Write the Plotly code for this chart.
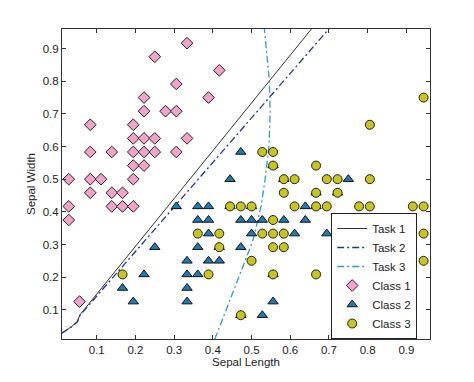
import plotly.graph_objects as go

# Grid indices: x = i/36, y = j/24 (normalised iris sepal measures)
class1_i = [1, 3, 3, 3, 3, 4, 5, 5, 6, 7, 7, 7, 7, 7, 8, 8, 8, 8, 8, 9, 9, 9, 10, 11, 11, 11, 12, 12, 14, 15, 1, 1, 5, 6, 7, 2]
class1_j = [12, 16, 14, 12, 11, 12, 14, 11, 11, 16, 15, 14, 13, 12, 18, 17, 15, 14, 13, 21, 15, 14, 17, 19, 17, 14, 22, 15, 18, 20, 10, 9, 10, 10, 10, 3]

class2_i = [11, 13, 14, 13, 14, 14, 13, 9, 12, 14, 15, 12, 13, 8, 6, 12, 7, 12,
            17, 16, 21, 20, 16, 18, 23, 17, 18, 19, 21, 23, 18, 22, 15, 17, 20, 20, 17, 19, 27, 24, 26, 24, 25]
class2_j = [10, 10, 10, 9, 9, 8, 7, 7, 6, 6, 6, 5, 5, 5, 4, 4, 3, 3,
            14, 12, 12, 13, 10, 10, 10, 9, 9, 9, 9, 9, 8, 8, 7, 7, 5, 3, 2, 2, 12, 11, 11, 10, 8]

class3_i = [16, 13, 15, 15, 6, 14, 19, 20, 20, 21, 22, 21, 17, 18, 22, 20, 19, 20, 21, 20, 21, 18, 20, 17,
            34, 29, 24, 25, 26, 29, 24, 26, 24, 25, 28, 29, 33, 34, 30, 31, 34, 34, 24]
class3_j = [10, 8, 8, 7, 5, 5, 14, 14, 13, 12, 12, 11, 10, 10, 10, 9, 8, 8, 8, 7, 7, 6, 5, 2,
            18, 16, 13, 12, 12, 12, 11, 11, 10, 10, 10, 10, 10, 10, 9, 8, 8, 6, 5]

class1_x = [i / 36 for i in class1_i]
class1_y = [j / 24 for j in class1_j]
class2_x = [i / 36 for i in class2_i]
class2_y = [j / 24 for j in class2_j]
class3_x = [i / 36 for i in class3_i]
class3_y = [j / 24 for j in class3_j]

task1_x = [0.0103, 0.0354, 0.0499, 0.0568, 0.656]
task1_y = [0.0285, 0.0488, 0.0641, 0.0847, 0.962]
task2_x = [0.0103, 0.0354, 0.0499, 0.0568, 0.701]
task2_y = [0.0285, 0.0480, 0.0630, 0.0830, 0.962]
task3_x = [0.405, 0.453, 0.503, 0.525, 0.535, 0.545, 0.548, 0.546, 0.539, 0.533]
task3_y = [0.01, 0.16, 0.31, 0.42, 0.5, 0.6, 0.7, 0.8, 0.9, 0.962]

tick_vals = [0.1, 0.2, 0.3, 0.4, 0.5, 0.6, 0.7, 0.8, 0.9]
tick_text = ["0.1", "0.2", "0.3", "0.4", "0.5", "0.6", "0.7", "0.8", "0.9"]

fig = go.Figure()
fig.add_trace(go.Scatter(x=task1_x, y=task1_y, mode="lines", name="Task 1",
                         line=dict(color="#333333", width=1)))
fig.add_trace(go.Scatter(x=task2_x, y=task2_y, mode="lines", name="Task 2",
                         line=dict(color="#27358c", width=1.3, dash="7px,3px,2px,3px")))
fig.add_trace(go.Scatter(x=task3_x, y=task3_y, mode="lines", name="Task 3",
                         line=dict(color="#3598d0", width=1.3, dash="7px,3px,2px,3px")))
fig.add_trace(go.Scatter(x=class1_x, y=class1_y, mode="markers", name="Class 1",
                         marker=dict(symbol="diamond", size=9, color="#f2a3c9",
                                     line=dict(color="#222222", width=1))))
fig.add_trace(go.Scatter(x=class2_x, y=class2_y, mode="markers", name="Class 2",
                         marker=dict(symbol="triangle-up", size=9, color="#1f7bb5",
                                     line=dict(color="#111111", width=1))))
fig.add_trace(go.Scatter(x=class3_x, y=class3_y, mode="markers", name="Class 3",
                         marker=dict(symbol="circle", size=9, color="#c6c61c",
                                     line=dict(color="#222222", width=1))))

axis_common = dict(
    showgrid=False, zeroline=False, showline=True, linecolor="#333333", linewidth=1,
    mirror="allticks", ticks="inside", ticklen=4, tickcolor="#333333",
    tickvals=tick_vals, ticktext=tick_text, automargin=False,
    tickfont=dict(family="Liberation Sans, Arial, sans-serif", size=11.5, color="#222222"),
)

# page body adds an 8px offset; figure size/margins compensate for it
fig.update_layout(
    template="none",
    width=466, height=374,
    margin=dict(l=54, r=44, t=21, b=43, pad=0),
    plot_bgcolor="white", paper_bgcolor="white",
    font=dict(family="Liberation Sans, Arial, sans-serif", size=11.5, color="#222222"),
    showlegend=True,
    legend=dict(x=0.7315, y=0.0, xanchor="left", yanchor="bottom",
                bgcolor="white", bordercolor="#222222", borderwidth=1,
                font=dict(size=11.5), tracegroupgap=0, itemwidth=30),
    xaxis=dict(range=[0.0103, 0.961], title=dict(text="Sepal Length", standoff=3,
               font=dict(size=11.5)), **axis_common),
    yaxis=dict(range=[0.0105, 0.96], title=dict(text="Sepal Width", standoff=4,
               font=dict(size=11.5)), **axis_common),
)

fig.write_html("out.html")
